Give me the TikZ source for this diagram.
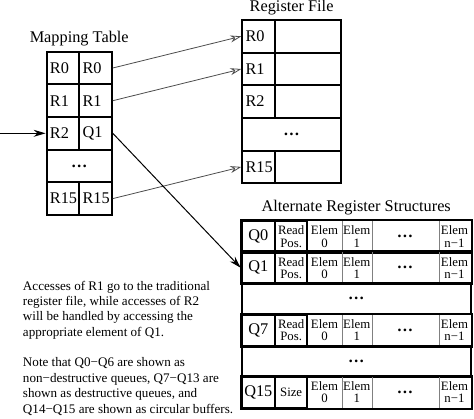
\documentclass[tikz,border=0pt]{standalone}
\usepackage{fontspec}
\setmainfont{Liberation Serif}
\usetikzlibrary{arrows.meta}

\def\thk{2pt}
\newcommand{\bigtxt}{\fontsize{16.3}{18}\selectfont}
\newcommand{\smalltxt}{\fontsize{12.8}{12.2}\selectfont}
\newcommand{\notetxt}{\fontsize{13.1}{15.4}\selectfont}

\begin{document}
\begin{tikzpicture}[x=1pt, y=-1pt, line width=\thk, every node/.style={rectangle,draw,line width=\thk,inner sep=0,font=\bigtxt},
	mapcell/.style={minimum width=32.6pt,minimum height=32.66pt,text width=26pt,align=left},
	valcell/.style={minimum width=66pt,minimum height=32.66pt},
	dotcell/.style={minimum height=32.66pt,font=\bigtxt\bfseries},
	qcell/.style={minimum width=33.3pt,minimum height=31.17pt},
	poscell/.style={minimum width=32.3pt,minimum height=31.17pt,font=\smalltxt,align=center},
	elemcell/.style={draw=none,minimum height=31.17pt,font=\smalltxt,align=center},
	dotrow/.style={minimum width=229pt,minimum height=31.17pt,font=\bigtxt\bfseries},
	title/.style={draw=none,anchor=base},
	note/.style={draw=none,anchor=base west,align=left,font=\notetxt},
	thin/.style={gray,line width=0.6pt},
	ptr/.style={gray!60!black,line width=0.8pt,-{Stealth[open,length=11pt,width=7pt]}},
	sel/.style={line width=1pt,-{Stealth[length=12pt,width=7pt]}}]
	\useasboundingbox (0,0) rectangle (474,418);

	% mapping table
	\node (maptitle) at (79.2,42.7) [title] {Mapping Table};
	\node (m0a) at (62.9,68.0) [mapcell] {R0};
	\node (m0b) at (95.5,68.0) [mapcell] {R0};
	\node (m1a) at (62.9,100.7) [mapcell] {R1};
	\node (m1b) at (95.5,100.7) [mapcell] {R1};
	\node (m2a) at (62.9,133.3) [mapcell] {R2};
	\node (m2b) at (95.5,133.3) [mapcell] {Q1};
	\node (mdots) at (79.2,166.0) [dotcell, minimum width=65.2pt] {\ldots};
	\node (m15a) at (62.9,198.6) [mapcell] {R15};
	\node (m15b) at (95.5,198.6) [mapcell] {R15};

	% register file
	\node (regtitle) at (291.6,11.7) [title] {Register File};
	\node (r0) at (258.6,36.3) [mapcell] {R0};
	\node (r0v) at (307.9,36.3) [valcell] {};
	\node (r1) at (258.6,69.0) [mapcell] {R1};
	\node (r1v) at (307.9,69.0) [valcell] {};
	\node (r2) at (258.6,101.6) [mapcell] {R2};
	\node (r2v) at (307.9,101.6) [valcell] {};
	\node (rdots) at (291.6,134.3) [dotcell, minimum width=98.6pt] {\ldots};
	\node (r15) at (258.6,166.9) [mapcell] {R15};
	\node (r15v) at (307.9,166.9) [valcell] {};

	% alternate register structures
	\node (alttitle) at (356.2,211.7) [title] {Alternate Register Structures};

	\node (q0e0) at (324.5,236.6) [elemcell, minimum width=34.4pt] {Elem\\0};
	\node (q0e1) at (356.7,236.6) [elemcell, minimum width=30pt] {Elem\\1};
	\node (q0d) at (405,236.6) [elemcell, minimum width=66.6pt, font=\bigtxt\bfseries] {\ldots};
	\node (q0en) at (454.5,236.6) [elemcell, minimum width=32.4pt] {Elem\\n−1};
	\draw[thin] (q0e0.north east) -- (q0e0.south east);
	\draw[thin] (q0e1.north east) -- (q0e1.south east);
	\draw[thin] (q0d.north east) -- (q0d.south east);
	\node (q0) at (258.35,236.6) [qcell] {Q0};
	\node (q0p) at (291.15,236.6) [poscell] {Read\\Pos.};
	\draw (q0.north west) rectangle (q0en.south east);

	\node (q1e0) at (324.5,267.8) [elemcell, minimum width=34.4pt] {Elem\\0};
	\node (q1e1) at (356.7,267.8) [elemcell, minimum width=30pt] {Elem\\1};
	\node (q1d) at (405,267.8) [elemcell, minimum width=66.6pt, font=\bigtxt\bfseries] {\ldots};
	\node (q1en) at (454.5,267.8) [elemcell, minimum width=32.4pt] {Elem\\n−1};
	\draw[thin] (q1e0.north east) -- (q1e0.south east);
	\draw[thin] (q1e1.north east) -- (q1e1.south east);
	\draw[thin] (q1d.north east) -- (q1d.south east);
	\node (q1) at (258.35,267.8) [qcell] {Q1};
	\node (q1p) at (291.15,267.8) [poscell] {Read\\Pos.};
	\draw (q1.north west) rectangle (q1en.south east);

	\node (qdots1) at (356.2,298.9) [dotrow] {\ldots};

	\node (q7e0) at (324.5,330.1) [elemcell, minimum width=34.4pt] {Elem\\0};
	\node (q7e1) at (356.7,330.1) [elemcell, minimum width=30pt] {Elem\\1};
	\node (q7d) at (405,330.1) [elemcell, minimum width=66.6pt, font=\bigtxt\bfseries] {\ldots};
	\node (q7en) at (454.5,330.1) [elemcell, minimum width=32.4pt] {Elem\\n−1};
	\draw[thin] (q7e0.north east) -- (q7e0.south east);
	\draw[thin] (q7e1.north east) -- (q7e1.south east);
	\draw[thin] (q7d.north east) -- (q7d.south east);
	\node (q7) at (258.35,330.1) [qcell] {Q7};
	\node (q7p) at (291.15,330.1) [poscell] {Read\\Pos.};
	\draw (q7.north west) rectangle (q7en.south east);

	\node (qdots2) at (356.2,361.3) [dotrow] {\ldots};

	\node (q15e0) at (324.5,392.4) [elemcell, minimum width=34.4pt] {Elem\\0};
	\node (q15e1) at (356.7,392.4) [elemcell, minimum width=30pt] {Elem\\1};
	\node (q15d) at (405,392.4) [elemcell, minimum width=66.6pt, font=\bigtxt\bfseries] {\ldots};
	\node (q15en) at (454.5,392.4) [elemcell, minimum width=32.4pt] {Elem\\n−1};
	\draw[thin] (q15e0.north east) -- (q15e0.south east);
	\draw[thin] (q15e1.north east) -- (q15e1.south east);
	\draw[thin] (q15d.north east) -- (q15d.south east);
	\node (q15) at (258.35,392.4) [qcell] {Q15};
	\node (q15p) at (291.15,392.4) [poscell] {Size};
	\draw (q15.north west) rectangle (q15en.south east);

	% connectors
	\draw[ptr] (m0b.east) -- (r0.west);
	\draw[ptr] (m1b.east) -- (r1.west);
	\draw[ptr] (m15b.east) -- (r15.west);
	\draw[sel] (m2b.east) -- (q1.west);
	\coordinate (feed) at (0,133.3);
	\draw[sel] (feed) -- (m2a.west);

	% notes
	\node (note1) at (22,336.2) [note] {Accesses of R1 go to the traditional\\register file, while accesses of R2\\will be handled by accessing the\\appropriate element of Q1.};
	\node (note2) at (22,413) [note] {Note that Q0−Q6 are shown as\\non−destructive queues, Q7−Q13 are\\shown as destructive queues, and\\Q14−Q15 are shown as circular buffers.};
\end{tikzpicture}
\end{document}
